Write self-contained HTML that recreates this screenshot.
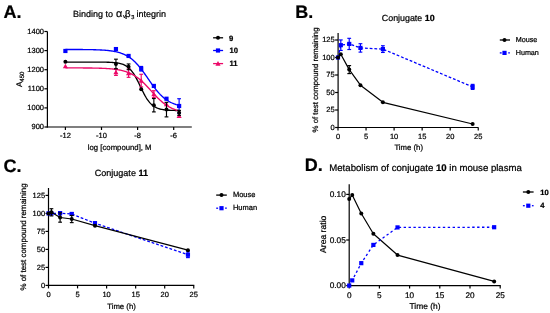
<!DOCTYPE html><html><head><meta charset="utf-8"><style>html,body{margin:0;padding:0;background:#fff;width:550px;height:313px;overflow:hidden}svg{display:block;will-change:transform;}text{text-rendering:geometricPrecision;stroke:#000;stroke-width:0.22px;font-family:"Liberation Sans",sans-serif}</style></head><body><svg width="550" height="313" viewBox="0 0 550 313" font-family="Liberation Sans, sans-serif">
<rect width="550" height="313" fill="#fff"/>
<text x="3.60" y="17.60" font-size="18.0" text-anchor="start" font-weight="bold" fill="#000" >A.</text>
<text x="73.00" y="16.90" font-size="9.0" text-anchor="start" font-weight="normal" fill="#000" >Binding to</text>
<text x="116.1" y="16.6" font-size="10.8" font-family="Liberation Serif, serif">α</text>
<text x="123.1" y="17.9" font-size="5.6" font-family="Liberation Serif, serif">v</text>
<text x="125.0" y="16.7" font-size="9.6" font-family="Liberation Serif, serif">β</text>
<text x="131.3" y="19.0" font-size="5.6" font-family="Liberation Serif, serif">3</text>
<text x="136.50" y="16.90" font-size="9.0" text-anchor="start" font-weight="normal" fill="#000" >integrin</text>
<line x1="47.40" y1="31.50" x2="47.40" y2="127.60" stroke="#000" stroke-width="1.2" />
<line x1="44.40" y1="31.50" x2="47.40" y2="31.50" stroke="#000" stroke-width="1.2" />
<text x="44.00" y="33.90" font-size="7.5" text-anchor="end" font-weight="normal" fill="#000" >1400</text>
<line x1="44.40" y1="50.60" x2="47.40" y2="50.60" stroke="#000" stroke-width="1.2" />
<text x="44.00" y="53.00" font-size="7.5" text-anchor="end" font-weight="normal" fill="#000" >1300</text>
<line x1="44.40" y1="69.70" x2="47.40" y2="69.70" stroke="#000" stroke-width="1.2" />
<text x="44.00" y="72.10" font-size="7.5" text-anchor="end" font-weight="normal" fill="#000" >1200</text>
<line x1="44.40" y1="88.80" x2="47.40" y2="88.80" stroke="#000" stroke-width="1.2" />
<text x="44.00" y="91.20" font-size="7.5" text-anchor="end" font-weight="normal" fill="#000" >1100</text>
<line x1="44.40" y1="107.90" x2="47.40" y2="107.90" stroke="#000" stroke-width="1.2" />
<text x="44.00" y="110.30" font-size="7.5" text-anchor="end" font-weight="normal" fill="#000" >1000</text>
<line x1="44.40" y1="127.00" x2="47.40" y2="127.00" stroke="#000" stroke-width="1.2" />
<text x="44.00" y="129.40" font-size="7.5" text-anchor="end" font-weight="normal" fill="#000" >900</text>
<line x1="46.80" y1="127.00" x2="191.80" y2="127.00" stroke="#000" stroke-width="1.2" />
<line x1="65.40" y1="127.00" x2="65.40" y2="130.00" stroke="#000" stroke-width="1.2" />
<text x="65.40" y="138.10" font-size="7.5" text-anchor="middle" font-weight="normal" fill="#000" >-12</text>
<line x1="101.50" y1="127.00" x2="101.50" y2="130.00" stroke="#000" stroke-width="1.2" />
<text x="101.50" y="138.10" font-size="7.5" text-anchor="middle" font-weight="normal" fill="#000" >-10</text>
<line x1="137.60" y1="127.00" x2="137.60" y2="130.00" stroke="#000" stroke-width="1.2" />
<text x="137.60" y="138.10" font-size="7.5" text-anchor="middle" font-weight="normal" fill="#000" >-8</text>
<line x1="173.70" y1="127.00" x2="173.70" y2="130.00" stroke="#000" stroke-width="1.2" />
<text x="173.70" y="138.10" font-size="7.5" text-anchor="middle" font-weight="normal" fill="#000" >-6</text>
<text x="119.70" y="150.10" font-size="7.75" text-anchor="middle" font-weight="normal" fill="#000" >log [compound], M</text>
<text transform="translate(22.2,79.3) rotate(-90)" font-size="8.1" text-anchor="middle">A<tspan font-size="6.1" dy="1.3">450</tspan></text>
<polyline points="65.40,62.06 66.35,62.06 67.30,62.06 68.24,62.06 69.19,62.06 70.14,62.06 71.09,62.06 72.03,62.06 72.98,62.06 73.93,62.06 74.88,62.06 75.82,62.06 76.77,62.06 77.72,62.06 78.67,62.06 79.61,62.06 80.56,62.06 81.51,62.06 82.46,62.06 83.40,62.06 84.35,62.06 85.30,62.06 86.25,62.06 87.20,62.07 88.14,62.07 89.09,62.07 90.04,62.07 90.99,62.07 91.93,62.07 92.88,62.07 93.83,62.08 94.78,62.08 95.72,62.08 96.67,62.09 97.62,62.09 98.57,62.10 99.51,62.10 100.46,62.11 101.41,62.12 102.36,62.13 103.31,62.14 104.25,62.16 105.20,62.17 106.15,62.19 107.10,62.22 108.04,62.25 108.99,62.28 109.94,62.32 110.89,62.36 111.83,62.42 112.78,62.48 113.73,62.55 114.68,62.64 115.62,62.74 116.57,62.86 117.52,63.00 118.47,63.16 119.41,63.35 120.36,63.57 121.31,63.83 122.26,64.13 123.21,64.48 124.15,64.89 125.10,65.36 126.05,65.89 127.00,66.51 127.94,67.22 128.89,68.02 129.84,68.92 130.79,69.94 131.73,71.08 132.68,72.34 133.63,73.73 134.58,75.23 135.52,76.86 136.47,78.58 137.42,80.41 138.37,82.30 139.31,84.25 140.26,86.22 141.21,88.20 142.16,90.15 143.11,92.05 144.05,93.88 145.00,95.62 145.95,97.25 146.90,98.77 147.84,100.17 148.79,101.44 149.74,102.59 150.69,103.62 151.63,104.53 152.58,105.35 153.53,106.06 154.48,106.69 155.42,107.23 156.37,107.70 157.32,108.11 158.27,108.47 159.21,108.77 160.16,109.04 161.11,109.26 162.06,109.45 163.01,109.62 163.95,109.76 164.90,109.88 165.85,109.98 166.80,110.07 167.74,110.15 168.69,110.21 169.64,110.27 170.59,110.31 171.53,110.35 172.48,110.38 173.43,110.41 174.38,110.44 175.32,110.46 176.27,110.48 177.22,110.49 178.17,110.50 179.12,110.51" fill="none" stroke="#000" stroke-width="1.35" stroke-linejoin="round" />
<polyline points="65.40,49.47 66.35,49.47 67.30,49.47 68.24,49.47 69.19,49.48 70.14,49.48 71.09,49.48 72.03,49.48 72.98,49.49 73.93,49.49 74.88,49.49 75.82,49.50 76.77,49.50 77.72,49.51 78.67,49.51 79.61,49.52 80.56,49.52 81.51,49.53 82.46,49.54 83.40,49.55 84.35,49.56 85.30,49.57 86.25,49.58 87.20,49.59 88.14,49.60 89.09,49.62 90.04,49.64 90.99,49.65 91.93,49.67 92.88,49.69 93.83,49.72 94.78,49.74 95.72,49.77 96.67,49.80 97.62,49.84 98.57,49.88 99.51,49.92 100.46,49.96 101.41,50.01 102.36,50.07 103.31,50.13 104.25,50.19 105.20,50.26 106.15,50.34 107.10,50.43 108.04,50.52 108.99,50.63 109.94,50.74 110.89,50.86 111.83,51.00 112.78,51.15 113.73,51.31 114.68,51.49 115.62,51.68 116.57,51.89 117.52,52.12 118.47,52.37 119.41,52.65 120.36,52.94 121.31,53.27 122.26,53.62 123.21,54.00 124.15,54.41 125.10,54.85 126.05,55.33 127.00,55.85 127.94,56.41 128.89,57.00 129.84,57.65 130.79,58.33 131.73,59.07 132.68,59.85 133.63,60.68 134.58,61.56 135.52,62.49 136.47,63.47 137.42,64.50 138.37,65.57 139.31,66.70 140.26,67.87 141.21,69.07 142.16,70.32 143.11,71.60 144.05,72.91 145.00,74.25 145.95,75.60 146.90,76.97 147.84,78.35 148.79,79.73 149.74,81.10 150.69,82.46 151.63,83.81 152.58,85.13 153.53,86.43 154.48,87.69 155.42,88.92 156.37,90.11 157.32,91.25 158.27,92.35 159.21,93.40 160.16,94.41 161.11,95.36 162.06,96.26 163.01,97.12 163.95,97.92 164.90,98.68 165.85,99.39 166.80,100.05 167.74,100.67 168.69,101.25 169.64,101.78 170.59,102.28 171.53,102.74 172.48,103.17 173.43,103.56 174.38,103.93 175.32,104.26 176.27,104.57 177.22,104.85 178.17,105.11 179.12,105.35" fill="none" stroke="#0000ff" stroke-width="1.35" stroke-linejoin="round" />
<polyline points="65.40,67.90 66.35,67.90 67.30,67.90 68.24,67.90 69.19,67.90 70.14,67.91 71.09,67.91 72.03,67.91 72.98,67.91 73.93,67.91 74.88,67.92 75.82,67.92 76.77,67.92 77.72,67.93 78.67,67.93 79.61,67.93 80.56,67.94 81.51,67.94 82.46,67.95 83.40,67.96 84.35,67.96 85.30,67.97 86.25,67.98 87.20,67.99 88.14,68.00 89.09,68.01 90.04,68.02 90.99,68.03 91.93,68.04 92.88,68.06 93.83,68.08 94.78,68.09 95.72,68.11 96.67,68.13 97.62,68.16 98.57,68.18 99.51,68.21 100.46,68.24 101.41,68.28 102.36,68.31 103.31,68.35 104.25,68.40 105.20,68.45 106.15,68.50 107.10,68.56 108.04,68.62 108.99,68.69 109.94,68.76 110.89,68.84 111.83,68.93 112.78,69.03 113.73,69.13 114.68,69.25 115.62,69.37 116.57,69.51 117.52,69.66 118.47,69.82 119.41,69.99 120.36,70.18 121.31,70.39 122.26,70.61 123.21,70.85 124.15,71.12 125.10,71.40 126.05,71.70 127.00,72.03 127.94,72.39 128.89,72.77 129.84,73.18 130.79,73.62 131.73,74.09 132.68,74.60 133.63,75.13 134.58,75.70 135.52,76.31 136.47,76.95 137.42,77.63 138.37,78.34 139.31,79.09 140.26,79.88 141.21,80.70 142.16,81.55 143.11,82.44 144.05,83.35 145.00,84.30 145.95,85.27 146.90,86.26 147.84,87.26 148.79,88.29 149.74,89.32 150.69,90.36 151.63,91.40 152.58,92.44 153.53,93.47 154.48,94.49 155.42,95.50 156.37,96.49 157.32,97.45 158.27,98.40 159.21,99.31 160.16,100.20 161.11,101.05 162.06,101.87 163.01,102.65 163.95,103.40 164.90,104.11 165.85,104.79 166.80,105.43 167.74,106.03 168.69,106.60 169.64,107.14 170.59,107.64 171.53,108.11 172.48,108.55 173.43,108.95 174.38,109.33 175.32,109.69 176.27,110.02 177.22,110.32 178.17,110.60 179.12,110.86" fill="none" stroke="#ec0868" stroke-width="1.35" stroke-linejoin="round" />
<rect x="63.30" y="48.88" width="4.20" height="4.20" fill="#0000ff"/>
<rect x="113.84" y="46.97" width="4.20" height="4.20" fill="#0000ff"/>
<rect x="126.48" y="53.85" width="4.20" height="4.20" fill="#0000ff"/>
<line x1="141.21" y1="66.45" x2="141.21" y2="71.04" stroke="#0000ff" stroke-width="1.15" />
<line x1="139.31" y1="66.45" x2="143.11" y2="66.45" stroke="#0000ff" stroke-width="1.15" />
<line x1="139.31" y1="71.04" x2="143.11" y2="71.04" stroke="#0000ff" stroke-width="1.15" />
<rect x="139.11" y="66.65" width="4.20" height="4.20" fill="#0000ff"/>
<rect x="151.75" y="83.84" width="4.20" height="4.20" fill="#0000ff"/>
<rect x="164.38" y="96.63" width="4.20" height="4.20" fill="#0000ff"/>
<line x1="179.12" y1="98.73" x2="179.12" y2="113.25" stroke="#0000ff" stroke-width="1.15" />
<line x1="177.22" y1="98.73" x2="181.02" y2="98.73" stroke="#0000ff" stroke-width="1.15" />
<line x1="177.22" y1="113.25" x2="181.02" y2="113.25" stroke="#0000ff" stroke-width="1.15" />
<rect x="177.02" y="103.89" width="4.20" height="4.20" fill="#0000ff"/>
<polygon points="65.40,63.71 67.95,68.30 62.85,68.30" fill="#ec0868"/>
<line x1="115.94" y1="68.94" x2="115.94" y2="75.43" stroke="#ec0868" stroke-width="1.15" />
<line x1="114.04" y1="68.94" x2="117.84" y2="68.94" stroke="#ec0868" stroke-width="1.15" />
<line x1="114.04" y1="75.43" x2="117.84" y2="75.43" stroke="#ec0868" stroke-width="1.15" />
<polygon points="115.94,69.63 118.49,74.22 113.39,74.22" fill="#ec0868"/>
<line x1="128.58" y1="68.94" x2="128.58" y2="77.34" stroke="#ec0868" stroke-width="1.15" />
<line x1="126.68" y1="68.94" x2="130.48" y2="68.94" stroke="#ec0868" stroke-width="1.15" />
<line x1="126.68" y1="77.34" x2="130.48" y2="77.34" stroke="#ec0868" stroke-width="1.15" />
<polygon points="128.58,70.59 131.13,75.18 126.03,75.18" fill="#ec0868"/>
<line x1="141.21" y1="74.28" x2="141.21" y2="86.89" stroke="#ec0868" stroke-width="1.15" />
<line x1="139.31" y1="74.28" x2="143.11" y2="74.28" stroke="#ec0868" stroke-width="1.15" />
<line x1="139.31" y1="86.89" x2="143.11" y2="86.89" stroke="#ec0868" stroke-width="1.15" />
<polygon points="141.21,78.04 143.76,82.63 138.66,82.63" fill="#ec0868"/>
<line x1="153.85" y1="90.71" x2="153.85" y2="97.59" stroke="#ec0868" stroke-width="1.15" />
<line x1="151.95" y1="90.71" x2="155.75" y2="90.71" stroke="#ec0868" stroke-width="1.15" />
<line x1="151.95" y1="97.59" x2="155.75" y2="97.59" stroke="#ec0868" stroke-width="1.15" />
<polygon points="153.85,91.60 156.40,96.19 151.30,96.19" fill="#ec0868"/>
<polygon points="166.48,101.72 169.03,106.31 163.93,106.31" fill="#ec0868"/>
<polygon points="179.12,113.37 181.67,117.96 176.56,117.96" fill="#ec0868"/>
<circle cx="65.40" cy="61.87" r="2.00" fill="#000"/>
<line x1="115.94" y1="59.19" x2="115.94" y2="68.75" stroke="#000" stroke-width="1.15" />
<line x1="114.04" y1="59.19" x2="117.84" y2="59.19" stroke="#000" stroke-width="1.15" />
<line x1="114.04" y1="68.75" x2="117.84" y2="68.75" stroke="#000" stroke-width="1.15" />
<circle cx="115.94" cy="63.97" r="2.00" fill="#000"/>
<line x1="128.58" y1="63.97" x2="128.58" y2="69.70" stroke="#000" stroke-width="1.15" />
<line x1="126.68" y1="63.97" x2="130.48" y2="63.97" stroke="#000" stroke-width="1.15" />
<line x1="126.68" y1="69.70" x2="130.48" y2="69.70" stroke="#000" stroke-width="1.15" />
<circle cx="128.58" cy="66.84" r="2.00" fill="#000"/>
<circle cx="141.21" cy="89.18" r="2.00" fill="#000"/>
<line x1="153.85" y1="98.54" x2="153.85" y2="111.91" stroke="#000" stroke-width="1.15" />
<line x1="151.95" y1="98.54" x2="155.75" y2="98.54" stroke="#000" stroke-width="1.15" />
<line x1="151.95" y1="111.91" x2="155.75" y2="111.91" stroke="#000" stroke-width="1.15" />
<circle cx="153.85" cy="105.23" r="2.00" fill="#000"/>
<line x1="166.48" y1="102.36" x2="166.48" y2="116.88" stroke="#000" stroke-width="1.15" />
<line x1="164.58" y1="102.36" x2="168.38" y2="102.36" stroke="#000" stroke-width="1.15" />
<line x1="164.58" y1="116.88" x2="168.38" y2="116.88" stroke="#000" stroke-width="1.15" />
<circle cx="166.48" cy="109.62" r="2.00" fill="#000"/>
<line x1="179.12" y1="110.38" x2="179.12" y2="115.35" stroke="#000" stroke-width="1.15" />
<line x1="177.22" y1="110.38" x2="181.02" y2="110.38" stroke="#000" stroke-width="1.15" />
<line x1="177.22" y1="115.35" x2="181.02" y2="115.35" stroke="#000" stroke-width="1.15" />
<circle cx="179.12" cy="112.87" r="2.00" fill="#000"/>
<line x1="213.10" y1="37.80" x2="223.10" y2="37.80" stroke="#000" stroke-width="1.3" />
<circle cx="218.00" cy="37.80" r="2.00" fill="#000"/>
<text x="229.00" y="40.57" font-size="7.7" text-anchor="start" font-weight="bold" fill="#000" >9</text>
<line x1="213.10" y1="50.50" x2="223.10" y2="50.50" stroke="#0000ff" stroke-width="1.3" />
<rect x="215.90" y="48.40" width="4.20" height="4.20" fill="#0000ff"/>
<text x="229.50" y="53.27" font-size="7.7" text-anchor="start" font-weight="bold" fill="#000" >10</text>
<line x1="213.10" y1="63.60" x2="223.10" y2="63.60" stroke="#ec0868" stroke-width="1.3" />
<polygon points="218.00,61.05 220.55,65.64 215.45,65.64" fill="#ec0868"/>
<text x="229.50" y="66.37" font-size="7.7" text-anchor="start" font-weight="bold" fill="#000" >11</text>
<text x="295.20" y="17.50" font-size="18.0" text-anchor="start" font-weight="bold" fill="#000" >B.</text>
<text x="408.2" y="21.15" font-size="8.9" text-anchor="middle">Conjugate <tspan font-weight="bold">10</tspan></text>
<line x1="338.10" y1="33.00" x2="338.10" y2="128.10" stroke="#000" stroke-width="1.2" />
<line x1="335.10" y1="127.50" x2="338.10" y2="127.50" stroke="#000" stroke-width="1.2" />
<text x="334.70" y="129.90" font-size="7.5" text-anchor="end" font-weight="normal" fill="#000" >0</text>
<line x1="335.10" y1="110.00" x2="338.10" y2="110.00" stroke="#000" stroke-width="1.2" />
<text x="334.70" y="112.40" font-size="7.5" text-anchor="end" font-weight="normal" fill="#000" >25</text>
<line x1="335.10" y1="92.50" x2="338.10" y2="92.50" stroke="#000" stroke-width="1.2" />
<text x="334.70" y="94.90" font-size="7.5" text-anchor="end" font-weight="normal" fill="#000" >50</text>
<line x1="335.10" y1="75.00" x2="338.10" y2="75.00" stroke="#000" stroke-width="1.2" />
<text x="334.70" y="77.40" font-size="7.5" text-anchor="end" font-weight="normal" fill="#000" >75</text>
<line x1="335.10" y1="57.50" x2="338.10" y2="57.50" stroke="#000" stroke-width="1.2" />
<text x="334.70" y="59.90" font-size="7.5" text-anchor="end" font-weight="normal" fill="#000" >100</text>
<line x1="335.10" y1="40.00" x2="338.10" y2="40.00" stroke="#000" stroke-width="1.2" />
<text x="334.70" y="42.40" font-size="7.5" text-anchor="end" font-weight="normal" fill="#000" >125</text>
<line x1="337.50" y1="127.50" x2="478.40" y2="127.50" stroke="#000" stroke-width="1.2" />
<line x1="338.00" y1="127.50" x2="338.00" y2="130.50" stroke="#000" stroke-width="1.2" />
<text x="338.00" y="138.60" font-size="7.5" text-anchor="middle" font-weight="normal" fill="#000" >0</text>
<line x1="366.05" y1="127.50" x2="366.05" y2="130.50" stroke="#000" stroke-width="1.2" />
<text x="366.05" y="138.60" font-size="7.5" text-anchor="middle" font-weight="normal" fill="#000" >5</text>
<line x1="394.10" y1="127.50" x2="394.10" y2="130.50" stroke="#000" stroke-width="1.2" />
<text x="394.10" y="138.60" font-size="7.5" text-anchor="middle" font-weight="normal" fill="#000" >10</text>
<line x1="422.15" y1="127.50" x2="422.15" y2="130.50" stroke="#000" stroke-width="1.2" />
<text x="422.15" y="138.60" font-size="7.5" text-anchor="middle" font-weight="normal" fill="#000" >15</text>
<line x1="450.20" y1="127.50" x2="450.20" y2="130.50" stroke="#000" stroke-width="1.2" />
<text x="450.20" y="138.60" font-size="7.5" text-anchor="middle" font-weight="normal" fill="#000" >20</text>
<line x1="478.25" y1="127.50" x2="478.25" y2="130.50" stroke="#000" stroke-width="1.2" />
<text x="478.25" y="138.60" font-size="7.5" text-anchor="middle" font-weight="normal" fill="#000" >25</text>
<text x="408.70" y="149.85" font-size="7.75" text-anchor="middle" font-weight="normal" fill="#000" >Time (h)</text>
<text transform="translate(318,79.95) rotate(-90)" font-size="7.78" text-anchor="middle">% of test compound remaining</text>
<polyline points="338.00,57.50 340.81,45.18 349.22,43.92 360.44,47.91 382.88,49.10 472.64,86.90" fill="none" stroke="#0000ff" stroke-width="1.3" stroke-linejoin="round" stroke-dasharray="2.8,1.9"/>
<rect x="335.90" y="55.40" width="4.20" height="4.20" fill="#0000ff"/>
<line x1="340.81" y1="39.93" x2="340.81" y2="50.43" stroke="#0000ff" stroke-width="1.15" />
<line x1="338.91" y1="39.93" x2="342.70" y2="39.93" stroke="#0000ff" stroke-width="1.15" />
<line x1="338.91" y1="50.43" x2="342.70" y2="50.43" stroke="#0000ff" stroke-width="1.15" />
<rect x="338.70" y="43.08" width="4.20" height="4.20" fill="#0000ff"/>
<line x1="349.22" y1="38.32" x2="349.22" y2="49.52" stroke="#0000ff" stroke-width="1.15" />
<line x1="347.32" y1="38.32" x2="351.12" y2="38.32" stroke="#0000ff" stroke-width="1.15" />
<line x1="347.32" y1="49.52" x2="351.12" y2="49.52" stroke="#0000ff" stroke-width="1.15" />
<rect x="347.12" y="41.82" width="4.20" height="4.20" fill="#0000ff"/>
<line x1="360.44" y1="43.71" x2="360.44" y2="52.11" stroke="#0000ff" stroke-width="1.15" />
<line x1="358.54" y1="43.71" x2="362.34" y2="43.71" stroke="#0000ff" stroke-width="1.15" />
<line x1="358.54" y1="52.11" x2="362.34" y2="52.11" stroke="#0000ff" stroke-width="1.15" />
<rect x="358.34" y="45.81" width="4.20" height="4.20" fill="#0000ff"/>
<line x1="382.88" y1="45.74" x2="382.88" y2="52.46" stroke="#0000ff" stroke-width="1.15" />
<line x1="380.98" y1="45.74" x2="384.78" y2="45.74" stroke="#0000ff" stroke-width="1.15" />
<line x1="380.98" y1="52.46" x2="384.78" y2="52.46" stroke="#0000ff" stroke-width="1.15" />
<rect x="380.78" y="47.00" width="4.20" height="4.20" fill="#0000ff"/>
<line x1="472.64" y1="84.38" x2="472.64" y2="89.42" stroke="#0000ff" stroke-width="1.15" />
<line x1="470.74" y1="84.38" x2="474.54" y2="84.38" stroke="#0000ff" stroke-width="1.15" />
<line x1="470.74" y1="89.42" x2="474.54" y2="89.42" stroke="#0000ff" stroke-width="1.15" />
<rect x="470.54" y="84.80" width="4.20" height="4.20" fill="#0000ff"/>
<polyline points="338.00,57.50 340.81,54.28 349.22,69.61 360.44,85.22 382.88,102.30 472.64,124.00" fill="none" stroke="#000" stroke-width="1.2" stroke-linejoin="round" />
<circle cx="338.00" cy="57.50" r="2.00" fill="#000"/>
<circle cx="340.81" cy="54.28" r="2.00" fill="#000"/>
<line x1="349.22" y1="65.62" x2="349.22" y2="73.60" stroke="#000" stroke-width="1.15" />
<line x1="347.32" y1="65.62" x2="351.12" y2="65.62" stroke="#000" stroke-width="1.15" />
<line x1="347.32" y1="73.60" x2="351.12" y2="73.60" stroke="#000" stroke-width="1.15" />
<circle cx="349.22" cy="69.61" r="2.00" fill="#000"/>
<circle cx="360.44" cy="85.22" r="2.00" fill="#000"/>
<circle cx="382.88" cy="102.30" r="2.00" fill="#000"/>
<circle cx="472.64" cy="124.00" r="2.00" fill="#000"/>
<line x1="499.80" y1="40.00" x2="509.90" y2="40.00" stroke="#000" stroke-width="1.3" />
<circle cx="504.50" cy="40.00" r="2.00" fill="#000"/>
<text x="515.70" y="42.38" font-size="7.2" text-anchor="start" font-weight="normal" fill="#000" >Mouse</text>
<line x1="499.80" y1="52.90" x2="501.70" y2="52.90" stroke="#0000ff" stroke-width="1.3" />
<line x1="508.20" y1="52.90" x2="509.90" y2="52.90" stroke="#0000ff" stroke-width="1.3" />
<rect x="502.40" y="50.80" width="4.20" height="4.20" fill="#0000ff"/>
<text x="515.70" y="55.28" font-size="7.2" text-anchor="start" font-weight="normal" fill="#000" >Human</text>
<text x="3.50" y="171.80" font-size="18.0" text-anchor="start" font-weight="bold" fill="#000" >C.</text>
<text x="121.35" y="175.8" font-size="9.05" text-anchor="middle">Conjugate <tspan font-weight="bold">11</tspan></text>
<line x1="48.50" y1="188.00" x2="48.50" y2="286.00" stroke="#000" stroke-width="1.2" />
<line x1="45.50" y1="285.40" x2="48.50" y2="285.40" stroke="#000" stroke-width="1.2" />
<text x="45.10" y="287.80" font-size="7.5" text-anchor="end" font-weight="normal" fill="#000" >0</text>
<line x1="45.50" y1="267.40" x2="48.50" y2="267.40" stroke="#000" stroke-width="1.2" />
<text x="45.10" y="269.80" font-size="7.5" text-anchor="end" font-weight="normal" fill="#000" >25</text>
<line x1="45.50" y1="249.40" x2="48.50" y2="249.40" stroke="#000" stroke-width="1.2" />
<text x="45.10" y="251.80" font-size="7.5" text-anchor="end" font-weight="normal" fill="#000" >50</text>
<line x1="45.50" y1="231.40" x2="48.50" y2="231.40" stroke="#000" stroke-width="1.2" />
<text x="45.10" y="233.80" font-size="7.5" text-anchor="end" font-weight="normal" fill="#000" >75</text>
<line x1="45.50" y1="213.40" x2="48.50" y2="213.40" stroke="#000" stroke-width="1.2" />
<text x="45.10" y="215.80" font-size="7.5" text-anchor="end" font-weight="normal" fill="#000" >100</text>
<line x1="45.50" y1="195.40" x2="48.50" y2="195.40" stroke="#000" stroke-width="1.2" />
<text x="45.10" y="197.80" font-size="7.5" text-anchor="end" font-weight="normal" fill="#000" >125</text>
<line x1="47.90" y1="285.40" x2="194.30" y2="285.40" stroke="#000" stroke-width="1.2" />
<line x1="48.50" y1="285.40" x2="48.50" y2="288.40" stroke="#000" stroke-width="1.2" />
<text x="48.50" y="296.90" font-size="7.5" text-anchor="middle" font-weight="normal" fill="#000" >0</text>
<line x1="77.55" y1="285.40" x2="77.55" y2="288.40" stroke="#000" stroke-width="1.2" />
<text x="77.55" y="296.90" font-size="7.5" text-anchor="middle" font-weight="normal" fill="#000" >5</text>
<line x1="106.60" y1="285.40" x2="106.60" y2="288.40" stroke="#000" stroke-width="1.2" />
<text x="106.60" y="296.90" font-size="7.5" text-anchor="middle" font-weight="normal" fill="#000" >10</text>
<line x1="135.65" y1="285.40" x2="135.65" y2="288.40" stroke="#000" stroke-width="1.2" />
<text x="135.65" y="296.90" font-size="7.5" text-anchor="middle" font-weight="normal" fill="#000" >15</text>
<line x1="164.70" y1="285.40" x2="164.70" y2="288.40" stroke="#000" stroke-width="1.2" />
<text x="164.70" y="296.90" font-size="7.5" text-anchor="middle" font-weight="normal" fill="#000" >20</text>
<line x1="193.75" y1="285.40" x2="193.75" y2="288.40" stroke="#000" stroke-width="1.2" />
<text x="193.75" y="296.90" font-size="7.5" text-anchor="middle" font-weight="normal" fill="#000" >25</text>
<text x="121.50" y="309.00" font-size="7.75" text-anchor="middle" font-weight="normal" fill="#000" >Time (h)</text>
<text transform="translate(26.3,237) rotate(-90)" font-size="7.95" text-anchor="middle">% of test compound remaining</text>
<polyline points="48.50,213.40 51.41,213.40 60.12,213.18 71.74,213.98 94.98,223.19 187.94,254.73" fill="none" stroke="#0000ff" stroke-width="1.3" stroke-linejoin="round" stroke-dasharray="2.8,1.9"/>
<rect x="46.40" y="211.30" width="4.20" height="4.20" fill="#0000ff"/>
<rect x="49.30" y="211.30" width="4.20" height="4.20" fill="#0000ff"/>
<line x1="60.12" y1="211.60" x2="60.12" y2="214.77" stroke="#0000ff" stroke-width="1.15" />
<line x1="58.22" y1="211.60" x2="62.02" y2="211.60" stroke="#0000ff" stroke-width="1.15" />
<line x1="58.22" y1="214.77" x2="62.02" y2="214.77" stroke="#0000ff" stroke-width="1.15" />
<rect x="58.02" y="211.08" width="4.20" height="4.20" fill="#0000ff"/>
<line x1="71.74" y1="212.54" x2="71.74" y2="215.42" stroke="#0000ff" stroke-width="1.15" />
<line x1="69.84" y1="212.54" x2="73.64" y2="212.54" stroke="#0000ff" stroke-width="1.15" />
<line x1="69.84" y1="215.42" x2="73.64" y2="215.42" stroke="#0000ff" stroke-width="1.15" />
<rect x="69.64" y="211.88" width="4.20" height="4.20" fill="#0000ff"/>
<line x1="94.98" y1="221.90" x2="94.98" y2="224.49" stroke="#0000ff" stroke-width="1.15" />
<line x1="93.08" y1="221.90" x2="96.88" y2="221.90" stroke="#0000ff" stroke-width="1.15" />
<line x1="93.08" y1="224.49" x2="96.88" y2="224.49" stroke="#0000ff" stroke-width="1.15" />
<rect x="92.88" y="221.09" width="4.20" height="4.20" fill="#0000ff"/>
<line x1="187.94" y1="251.85" x2="187.94" y2="257.61" stroke="#0000ff" stroke-width="1.15" />
<line x1="186.04" y1="251.85" x2="189.84" y2="251.85" stroke="#0000ff" stroke-width="1.15" />
<line x1="186.04" y1="257.61" x2="189.84" y2="257.61" stroke="#0000ff" stroke-width="1.15" />
<rect x="185.84" y="252.63" width="4.20" height="4.20" fill="#0000ff"/>
<polyline points="48.50,213.40 51.41,212.32 60.12,217.50 71.74,219.02 94.98,225.64 187.94,250.19" fill="none" stroke="#000" stroke-width="1.2" stroke-linejoin="round" />
<circle cx="48.50" cy="213.40" r="2.00" fill="#000"/>
<line x1="51.41" y1="208.72" x2="51.41" y2="215.92" stroke="#000" stroke-width="1.15" />
<line x1="49.51" y1="208.72" x2="53.30" y2="208.72" stroke="#000" stroke-width="1.15" />
<line x1="49.51" y1="215.92" x2="53.30" y2="215.92" stroke="#000" stroke-width="1.15" />
<circle cx="51.41" cy="212.32" r="2.00" fill="#000"/>
<line x1="60.12" y1="212.82" x2="60.12" y2="222.18" stroke="#000" stroke-width="1.15" />
<line x1="58.22" y1="212.82" x2="62.02" y2="212.82" stroke="#000" stroke-width="1.15" />
<line x1="58.22" y1="222.18" x2="62.02" y2="222.18" stroke="#000" stroke-width="1.15" />
<circle cx="60.12" cy="217.50" r="2.00" fill="#000"/>
<line x1="71.74" y1="215.42" x2="71.74" y2="222.62" stroke="#000" stroke-width="1.15" />
<line x1="69.84" y1="215.42" x2="73.64" y2="215.42" stroke="#000" stroke-width="1.15" />
<line x1="69.84" y1="222.62" x2="73.64" y2="222.62" stroke="#000" stroke-width="1.15" />
<circle cx="71.74" cy="219.02" r="2.00" fill="#000"/>
<circle cx="94.98" cy="225.64" r="2.00" fill="#000"/>
<circle cx="187.94" cy="250.19" r="2.00" fill="#000"/>
<line x1="216.20" y1="195.10" x2="226.80" y2="195.10" stroke="#000" stroke-width="1.3" />
<circle cx="221.50" cy="195.10" r="2.00" fill="#000"/>
<text x="232.90" y="197.35" font-size="7.5" text-anchor="start" font-weight="normal" fill="#000" >Mouse</text>
<line x1="216.20" y1="208.20" x2="218.10" y2="208.20" stroke="#0000ff" stroke-width="1.3" />
<line x1="225.10" y1="208.20" x2="226.80" y2="208.20" stroke="#0000ff" stroke-width="1.3" />
<rect x="219.40" y="206.10" width="4.20" height="4.20" fill="#0000ff"/>
<text x="232.90" y="210.45" font-size="7.5" text-anchor="start" font-weight="normal" fill="#000" >Human</text>
<text x="304.70" y="171.30" font-size="18.0" text-anchor="start" font-weight="bold" fill="#000" >D.</text>
<text x="329.3" y="171.2" font-size="9.6">Metabolism of conjugate <tspan font-weight="bold">10</tspan> in mouse plasma</text>
<line x1="349.20" y1="184.20" x2="349.20" y2="286.20" stroke="#000" stroke-width="1.2" />
<line x1="346.20" y1="285.60" x2="349.20" y2="285.60" stroke="#000" stroke-width="1.2" />
<text x="345.80" y="288.26" font-size="8.3" text-anchor="end" font-weight="normal" fill="#000" >0.00</text>
<line x1="346.20" y1="240.00" x2="349.20" y2="240.00" stroke="#000" stroke-width="1.2" />
<text x="345.80" y="242.66" font-size="8.3" text-anchor="end" font-weight="normal" fill="#000" >0.05</text>
<line x1="346.20" y1="194.40" x2="349.20" y2="194.40" stroke="#000" stroke-width="1.2" />
<text x="345.80" y="197.06" font-size="8.3" text-anchor="end" font-weight="normal" fill="#000" >0.10</text>
<line x1="348.60" y1="285.60" x2="500.70" y2="285.60" stroke="#000" stroke-width="1.2" />
<line x1="349.20" y1="285.60" x2="349.20" y2="288.60" stroke="#000" stroke-width="1.2" />
<text x="349.20" y="297.90" font-size="8.2" text-anchor="middle" font-weight="normal" fill="#000" >0</text>
<line x1="379.40" y1="285.60" x2="379.40" y2="288.60" stroke="#000" stroke-width="1.2" />
<text x="379.40" y="297.90" font-size="8.2" text-anchor="middle" font-weight="normal" fill="#000" >5</text>
<line x1="409.60" y1="285.60" x2="409.60" y2="288.60" stroke="#000" stroke-width="1.2" />
<text x="409.60" y="297.90" font-size="8.2" text-anchor="middle" font-weight="normal" fill="#000" >10</text>
<line x1="439.80" y1="285.60" x2="439.80" y2="288.60" stroke="#000" stroke-width="1.2" />
<text x="439.80" y="297.90" font-size="8.2" text-anchor="middle" font-weight="normal" fill="#000" >15</text>
<line x1="470.00" y1="285.60" x2="470.00" y2="288.60" stroke="#000" stroke-width="1.2" />
<text x="470.00" y="297.90" font-size="8.2" text-anchor="middle" font-weight="normal" fill="#000" >20</text>
<line x1="500.20" y1="285.60" x2="500.20" y2="288.60" stroke="#000" stroke-width="1.2" />
<text x="500.20" y="297.90" font-size="8.2" text-anchor="middle" font-weight="normal" fill="#000" >25</text>
<text x="425.00" y="309.20" font-size="8.4" text-anchor="middle" font-weight="normal" fill="#000" >Time (h)</text>
<text transform="translate(325.7,234.3) rotate(-90)" font-size="8.6" text-anchor="middle">Area ratio</text>
<polyline points="349.20,198.96 352.22,195.04 361.28,213.55 373.36,233.80 397.52,255.05 494.16,281.40" fill="none" stroke="#000" stroke-width="1.2" stroke-linejoin="round" />
<circle cx="349.20" cy="198.96" r="2.00" fill="#000"/>
<circle cx="352.22" cy="195.04" r="2.00" fill="#000"/>
<circle cx="361.28" cy="213.55" r="2.00" fill="#000"/>
<circle cx="373.36" cy="233.80" r="2.00" fill="#000"/>
<circle cx="397.52" cy="255.05" r="2.00" fill="#000"/>
<circle cx="494.16" cy="281.40" r="2.00" fill="#000"/>
<polyline points="349.20,285.60 352.22,280.40 361.28,263.16 373.36,244.92 397.52,227.41 494.16,227.23" fill="none" stroke="#0000ff" stroke-width="1.3" stroke-linejoin="round" stroke-dasharray="2.4,2.5"/>
<rect x="347.10" y="283.50" width="4.20" height="4.20" fill="#0000ff"/>
<rect x="350.12" y="278.30" width="4.20" height="4.20" fill="#0000ff"/>
<rect x="359.18" y="261.06" width="4.20" height="4.20" fill="#0000ff"/>
<rect x="371.26" y="242.82" width="4.20" height="4.20" fill="#0000ff"/>
<rect x="395.42" y="225.31" width="4.20" height="4.20" fill="#0000ff"/>
<rect x="492.06" y="225.13" width="4.20" height="4.20" fill="#0000ff"/>
<line x1="522.90" y1="192.00" x2="533.60" y2="192.00" stroke="#000" stroke-width="1.3" />
<circle cx="528.30" cy="192.00" r="2.00" fill="#000"/>
<text x="540.30" y="194.74" font-size="7.6" text-anchor="start" font-weight="bold" fill="#000" >10</text>
<line x1="522.90" y1="205.70" x2="524.80" y2="205.70" stroke="#0000ff" stroke-width="1.3" />
<line x1="531.90" y1="205.70" x2="533.60" y2="205.70" stroke="#0000ff" stroke-width="1.3" />
<rect x="526.20" y="203.60" width="4.20" height="4.20" fill="#0000ff"/>
<text x="540.30" y="208.44" font-size="7.6" text-anchor="start" font-weight="bold" fill="#000" >4</text>
</svg></body></html>
